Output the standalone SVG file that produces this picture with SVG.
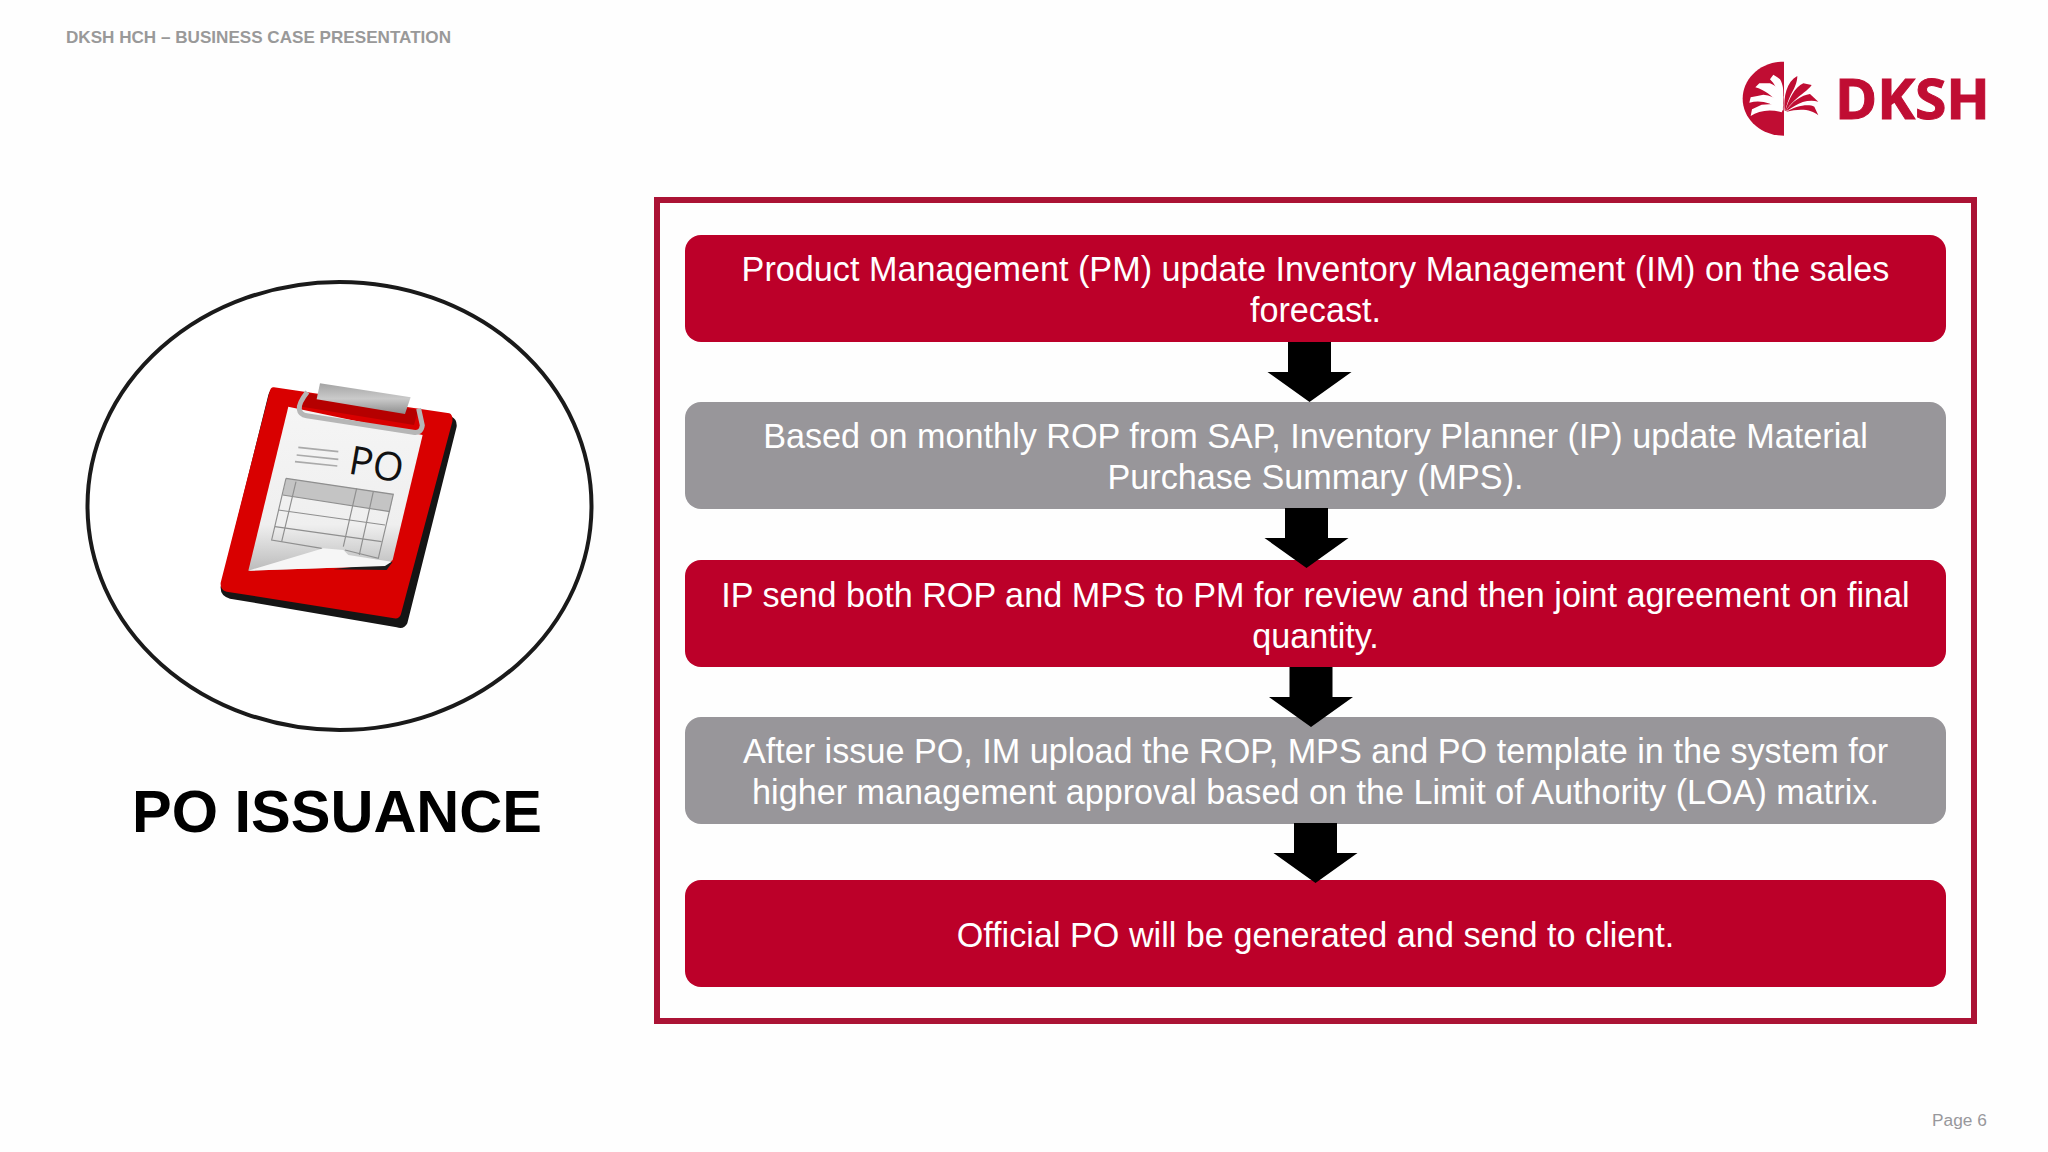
<svg xmlns="http://www.w3.org/2000/svg" width="2048" height="1152" viewBox="0 0 2048 1152">
<style>
text{font-family:"Liberation Sans",Arial,sans-serif}
.red{fill:#bc0029}
.grey{fill:#98969a}
.t{fill:#fff;font-size:34.200px;text-anchor:middle}
</style>
<defs>
<path id="arrow" d="M-21.500 0H21.500V30H42L0 60L-42 30H-21.500Z" fill="#000"/>
<linearGradient id="clipG" x1="0" y1="0" x2="0" y2="1"><stop offset="0" stop-color="#a4a4a4"/><stop offset=".5" stop-color="#cacaca"/><stop offset="1" stop-color="#8e8e8e"/></linearGradient>
<linearGradient id="paperG" x1="0" y1="0" x2="0" y2="1"><stop offset="0" stop-color="#f5f5f5"/><stop offset=".72" stop-color="#efefef"/><stop offset="1" stop-color="#bcbcbc"/></linearGradient>
</defs>
<rect width="2048" height="1152" fill="#fefefe"/>
<text id="header" x="66" y="43" font-size="17.100" font-weight="700" fill="#999">DKSH HCH – BUSINESS CASE PRESENTATION</text>
<g id="logo" transform="translate(1720 40) scale(.3333)">
<path d="M192 65V287C120 287 68 235 68 176C68 117 120 65 192 65Z" fill="#c00d33"/>
<g fill="#fff">
<path d="M190 214C184 172 172 140 150 118L160 104L172 112L180 118C190 135 190 150 190 165Z"/>
<path d="M188 208C165 172 135 150 106 142L118 130L150 130C170 138 182 150 190 170Z"/>
<path d="M186 212C155 190 125 178 88 188L92 172L112 168L130 164C155 166 175 178 190 194Z"/>
<path d="M185 217C150 206 115 212 92 228L96 208L125 194L160 192L190 206Z"/>
</g>
<g fill="#c00d33">
<path d="M194 212C190 170 200 125 232 108C232 128 222 148 212 165C205 180 200 195 196 212Z"/>
<path d="M196 213C205 180 225 140 250 130L275 135C265 150 240 165 225 180C212 192 203 203 198 213Z"/>
<path d="M198 214C215 185 245 165 270 162L295 185C270 178 245 185 225 197C215 203 205 210 198 214Z"/>
<path d="M198 216C225 198 265 190 283 200L295 226C275 208 240 204 198 216Z"/>
</g>
<text x="345" y="238" font-size="168" font-weight="700" fill="#c00d33" stroke="#c00d33" stroke-width="3" style="font-family:'Open Sans',sans-serif" textLength="465" lengthAdjust="spacingAndGlyphs">DKSH</text>
</g>
<g id="po-issuance">
<ellipse cx="339.500" cy="506" rx="252" ry="224" fill="#fff" stroke="#1a1a1a" stroke-width="4"/>
<g id="clipboard" transform="translate(200 360) scale(.3333)">
<path d="M225 90L755 170Q772 178 770 200L622 790Q612 810 590 802L90 716Q60 708 62 680L205 105Q210 85 225 90Z" fill="#151515"/>
<path d="M222 82L748 160Q760 165 757 185L603 762Q598 778 582 775L80 695Q60 690 62 668L208 98Q212 80 222 82Z" fill="#d90000"/>
<path d="M265 140L668 225L578 600L555 618L145 632Z" fill="url(#paperG)"/>
<path d="M400 628L578 605L560 630Z" fill="#1c1c1c"/>
<path d="M145 632L370 565L430 570L445 585L540 600L575 605L555 618Z" fill="#f6f6f6"/>
<path d="M322 100L655 150L642 195L306 140Z" fill="#b50000"/>
<path d="M322 96Q295 130 298 148Q300 164 320 167L640 217Q664 221 667 196L656 146" fill="none" stroke="#b6b6b6" stroke-width="15"/>
<path d="M360 70L632 112L615 162L350 118Z" fill="url(#clipG)"/>
<g fill="none" stroke="#aaa" stroke-width="5">
<path d="M295 262L415 275M290 285L415 298M285 305L412 318"/>
</g>
<text x="442" y="340" font-size="119" fill="#111" transform="rotate(10 442 340)" style="font-family:'Open Sans',sans-serif" textLength="163" lengthAdjust="spacingAndGlyphs">PO</text>
<path d="M258 355L580 403L570 455L248 405Z" fill="#c4c4c4"/>
<g fill="none" stroke="#8f8f8f" stroke-width="3.500">
<path d="M258 355L580 403L535 595L435 570M365 565L215 540L258 355"/>
<path d="M248 405L570 455M235 450L555 495M225 500L545 545"/>
<path d="M288 365L245 545M470 385L430 560M520 395L478 585"/>
</g>
</g>
<text id="title" x="337" y="832" font-size="59.500" font-weight="700" fill="#000" text-anchor="middle">PO ISSUANCE</text>
</g>
<rect id="frame" x="657" y="200" width="1317" height="821" fill="none" stroke="#ab1335" stroke-width="6"/>
<g id="step1"><rect class="red" x="685" y="235" width="1261" height="107" rx="16"/>
<text class="t" x="1315.500" y="281">Product Management (PM) update Inventory Management (IM) on the sales</text><text class="t" x="1315.500" y="322">forecast.</text></g>
<g id="step2"><rect class="grey" x="685" y="402" width="1261" height="107" rx="16"/>
<text class="t" x="1315.500" y="448">Based on monthly ROP from SAP, Inventory Planner (IP) update Material</text><text class="t" x="1315.500" y="489">Purchase Summary (MPS).</text></g>
<g id="step3"><rect class="red" x="685" y="560" width="1261" height="107" rx="16"/>
<text class="t" x="1315.500" y="607">IP send both ROP and MPS to PM for review and then joint agreement on final</text><text class="t" x="1315.500" y="648">quantity.</text></g>
<g id="step4"><rect class="grey" x="685" y="717" width="1261" height="107" rx="16"/>
<text class="t" x="1315.500" y="763">After issue PO, IM upload the ROP, MPS and PO template in the system for</text><text class="t" x="1315.500" y="804">higher management approval based on the Limit of Authority (LOA) matrix.</text></g>
<g id="step5"><rect class="red" x="685" y="880" width="1261" height="107" rx="16"/>
<text class="t" x="1315.500" y="947">Official PO will be generated and send to client.</text></g>
<g id="connectors">
<use href="#arrow" transform="translate(1309.500 342)"/>
<use href="#arrow" transform="translate(1306.500 508)"/>
<use href="#arrow" transform="translate(1311 667)"/>
<use href="#arrow" transform="translate(1315.500 823)"/>
</g>
<text id="page" x="1932" y="1126" font-size="17.300" fill="#98989c">Page 6</text>
</svg>
